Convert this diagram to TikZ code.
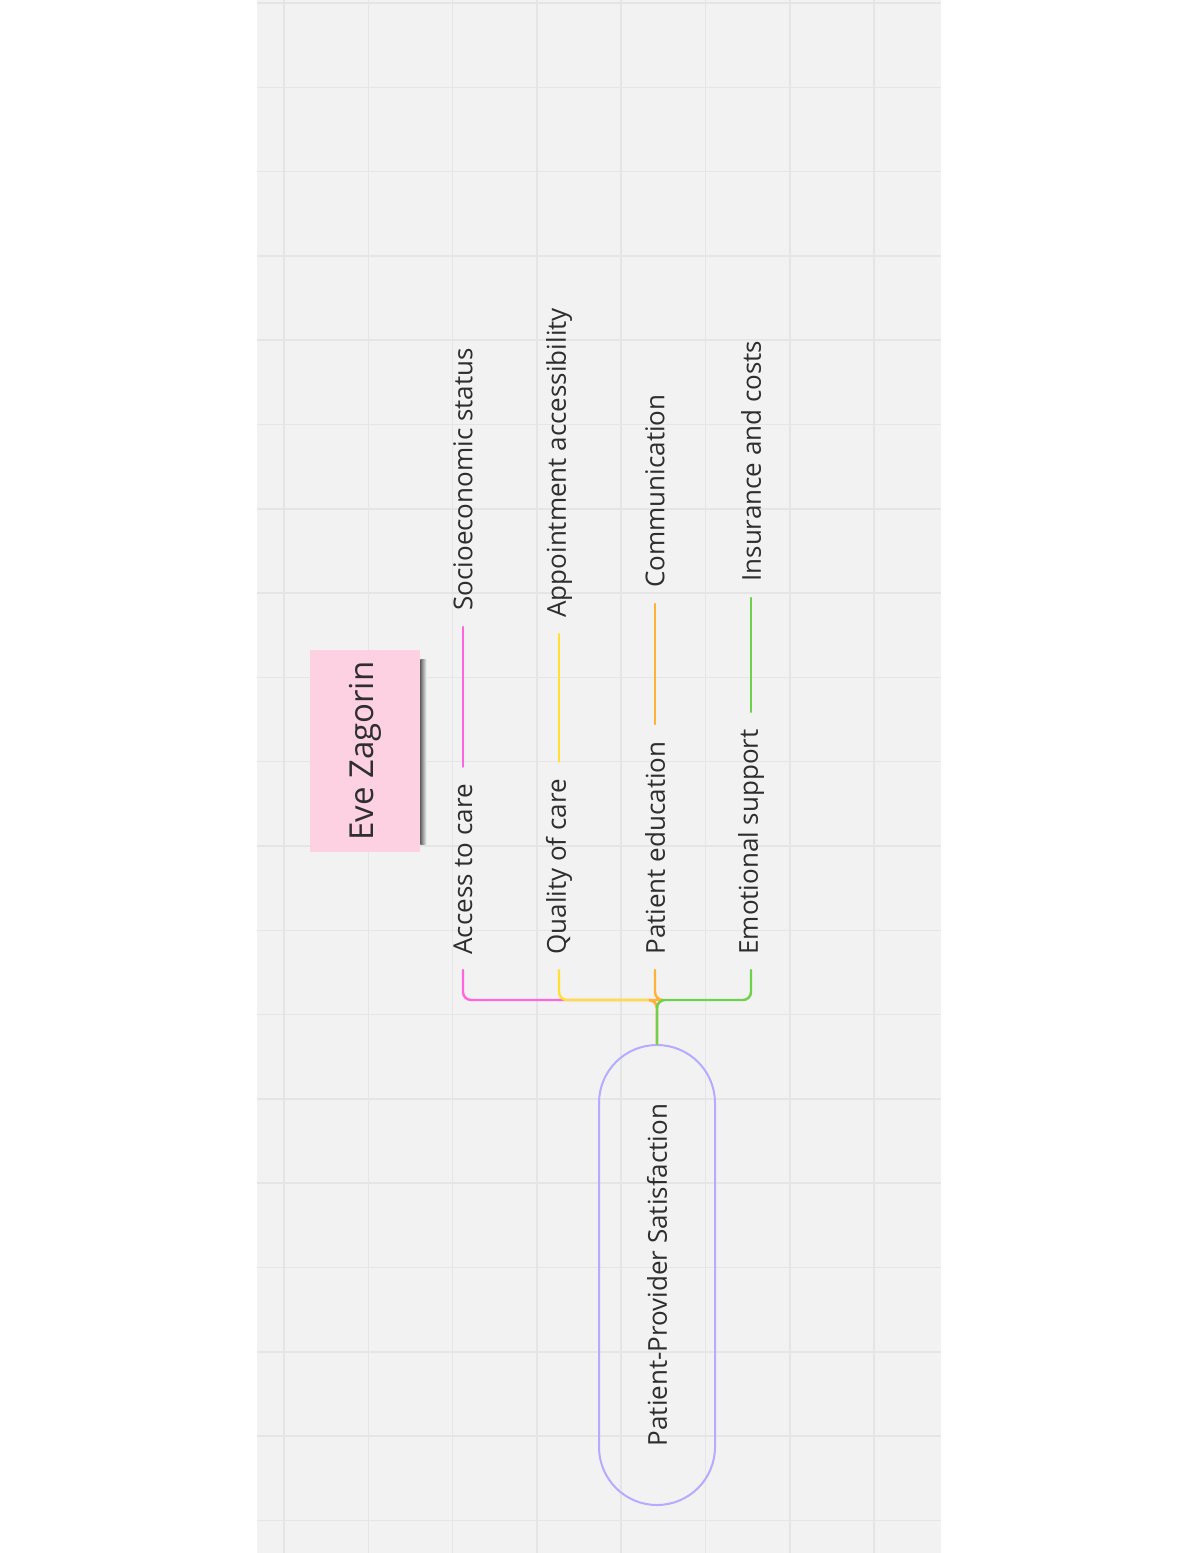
\documentclass[tikz,border=0pt]{standalone}
\usepackage{fontspec}
\setmainfont{Open Sans}
\usepackage{tikz}
\usetikzlibrary{positioning}
\definecolor{ink}     {HTML}{2E2E2E}
\definecolor{board}   {HTML}{F2F2F2}
\definecolor{gridln}  {HTML}{E5E5E5}
\definecolor{rootln}  {HTML}{B5ABFF}
\definecolor{brpink}  {HTML}{FF66DE}
\definecolor{bryellow}{HTML}{FFE033}
\definecolor{brorange}{HTML}{FFB238}
\definecolor{brgreen} {HTML}{6DD14B}
\definecolor{stickyfl}{HTML}{FDD0E2}
\tikzset{
  x=0.5pt, y=-0.5pt,
  every node/.style={font=\fontsize{13}{15}\selectfont, text=ink},
  % --- nodes
  lab/.style    = {rotate=90, anchor=west, inner sep=0pt},
  rootnd/.style = {rotate=90, draw=rootln, line width=1pt, rounded corners=29pt,
                   minimum width=230pt, minimum height=58pt, inner sep=0pt},
  note/.style   = {rotate=90, fill=stickyfl, minimum width=101pt, minimum height=55pt,
                   inner sep=0pt, font=\fontsize{16.5}{19}\selectfont},
  % --- edges
  br/.style     = {line width=1.2pt, draw=#1, line cap=round},
  sub/.style    = {br=#1, shorten <=8.5pt, shorten >=8pt},
  up/.style     = {br=#1, rounded corners=4pt, shorten <=7.5pt},
}
\begin{document}
\begin{tikzpicture}
  \useasboundingbox (0,0) rectangle (1200,1553);
  \fill[board] (257,0) rectangle (941,1553);
  \foreach \k in {0,...,7}
    \draw[gridln, line width=0.75pt] (284+84.3*\k,0) -- (284+84.3*\k,1553);
  \foreach \k in {0,...,18}
    \draw[gridln, line width=0.75pt] (257,3+84.3*\k) -- (941,3+84.3*\k);

  \node[note] (eve) at (365,751) {Eve Zagorin};
  % shadow of the sticky note
  \shade[left color=black!60, right color=board]
    ([yshift=-5pt]eve.south east) rectangle ([xshift=3pt, yshift=4pt]eve.south west);

  \node[rootnd] (pps) at (657,1275) {Patient-Provider Satisfaction};
  \coordinate (hub) at (657,1000);

  \node[lab] (acc) at (463,955) {Access to care};
  \node[lab] (qoc) at (559,955) {Quality of care};
  \node[lab] (ped) at (655,955) {Patient education};
  \node[lab] (emo) at (751,955) {Emotional support};

  \node[lab] (ses) at (463,611) {Socioeconomic status};
  \node[lab] (apa) at (559,618) {Appointment accessibility};
  \node[lab] (com) at (655,588) {Communication};
  \node[lab] (ins) at (751,582) {Insurance and costs};

  \draw[sub=brpink]   (acc.east) -- (ses.west);
  \draw[sub=bryellow] (qoc.east) -- (apa.west);
  \draw[sub=brorange] (ped.east) -- (com.west);
  \draw[sub=brgreen]  (emo.east) -- (ins.west);

  \draw[up=brpink]   (acc.west) |- (hub) -- (pps.east);
  \draw[up=bryellow] (qoc.west) |- (hub) -- (pps.east);
  \draw[up=brorange] (ped.west) |- (hub) -- (pps.east);
  \draw[up=brgreen]  (emo.west) |- (hub) -- (pps.east);
\end{tikzpicture}
\end{document}
